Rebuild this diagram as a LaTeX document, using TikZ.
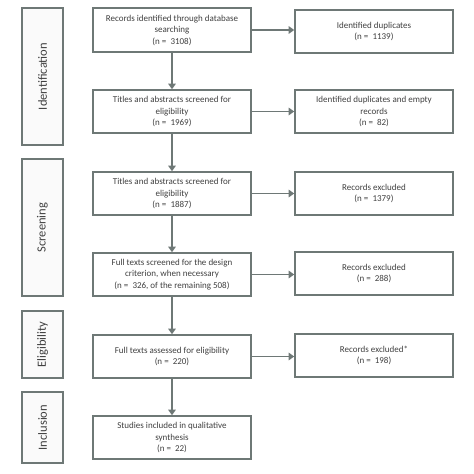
\documentclass[tikz,border=0pt]{standalone}
\usepackage{fontspec}
\setmainfont{Carlito}
\usetikzlibrary{arrows.meta}
\definecolor{lc}{HTML}{6E7876}
\definecolor{tc}{HTML}{404040}
\definecolor{sf}{HTML}{FAFAFA}
\tikzset{
  mainbox/.style={draw=lc, line width=1.6pt, fill=white, text=tc, align=center,
    inner sep=0pt, font=\fontsize{9}{11.5}\selectfont},
  sidebox/.style={draw=lc, line width=1.6pt, fill=sf, inner sep=0pt},
  sidelabel/.style={text=tc, rotate=90, font=\fontsize{12.5}{14}\selectfont},
  conn/.style={draw=lc, line width=1.6pt, -{Triangle[length=5.5pt,width=7.5pt]}}
}
\begin{document}
\begin{tikzpicture}[x=1pt,y=-1pt]
\useasboundingbox (0,0) rectangle (474,474);
% side boxes
\node[sidebox, minimum width=41pt, minimum height=137pt] (sid) at (42.5,76.5) {};
\node[sidelabel] (lid) at (sid.center) {Identification};
\node[sidebox, minimum width=41pt, minimum height=137pt] (ssc) at (42.5,227.5) {};
\node[sidelabel] (lsc) at (ssc.center) {Screening};
\node[sidebox, minimum width=41pt, minimum height=67pt] (sel) at (42.5,344.5) {};
\node[sidelabel] (lel) at (sel.center) {Eligibility};
\node[sidebox, minimum width=41pt, minimum height=71pt] (sin) at (42.5,427.5) {};
\node[sidelabel] (lin) at (sin.center) {Inclusion};
% main boxes
\node[mainbox, minimum width=158pt, minimum height=44pt] (b1) at (172,30) {Records identified through database\\searching\\(n =\ \ 3108)};
\node[mainbox, minimum width=158pt, minimum height=43pt] (r1) at (374,31.5) {Identified duplicates\\(n =\ \ 1139)};
\node[mainbox, minimum width=158pt, minimum height=43pt] (b2) at (172,111.5) {Titles and abstracts screened for\\eligibility\\(n =\ \ 1969)};
\node[mainbox, minimum width=158pt, minimum height=43pt] (r2) at (374,111.5) {Identified duplicates and empty\\records\\(n =\ \ 82)};
\node[mainbox, minimum width=158pt, minimum height=43pt] (b3) at (172,193.5) {Titles and abstracts screened for\\eligibility\\(n =\ \ 1887)};
\node[mainbox, minimum width=158pt, minimum height=43pt] (r3) at (374,193.5) {Records excluded\\(n =\ \ 1379)};
\node[mainbox, minimum width=158pt, minimum height=43pt] (b4) at (172,274.5) {Full texts screened for the design\\criterion, when necessary\\(n =\ \ 326, of the remaining 508)};
\node[mainbox, minimum width=158pt, minimum height=43pt] (r4) at (374,273.5) {Records excluded\\(n =\ \ 288)};
\node[mainbox, minimum width=158pt, minimum height=43pt] (b5) at (172,356.5) {Full texts assessed for eligibility\\(n =\ \ 220)};
\node[mainbox, minimum width=158pt, minimum height=43pt] (r5) at (374,355.5) {Records excluded*\\(n =\ \ 198)};
\node[mainbox, minimum width=158pt, minimum height=43pt] (b6) at (172,437.5) {Studies included in qualitative\\synthesis\\(n =\ \ 22)};
% connectors
\foreach \a/\b in {b1/b2,b2/b3,b3/b4,b4/b5,b5/b6}{
  \draw[conn] (\a.south) -- (\b.north);
}
\foreach \a/\b in {b1/r1,b2/r2,b3/r3,b4/r4,b5/r5}{
  \draw[conn] (\a.east) -- (\a.east -| \b.west);
}
\end{tikzpicture}
\end{document}
